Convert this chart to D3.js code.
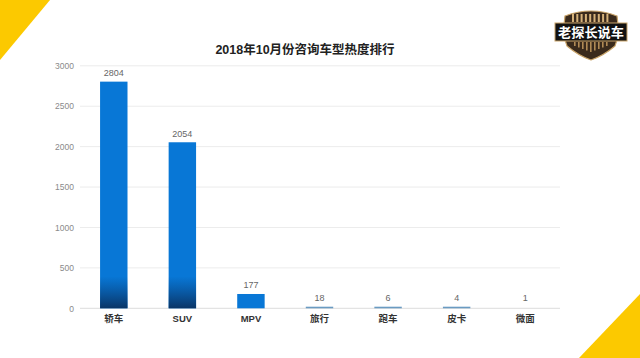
<!DOCTYPE html>
<html><head><meta charset="utf-8">
<script src="https://cdn.jsdelivr.net/npm/d3@7"></script>
<style>body{margin:0;background:#fff}svg{display:block}</style>
</head><body>
<svg id="c" width="640" height="358"></svg>
<script>
const categories = ["轿车","SUV","MPV","旅行","跑车","皮卡","微面"];
const values = [2804, 2054, 177, 18, 6, 4, 1];
const yTicks = [0, 500, 1000, 1500, 2000, 2500, 3000];
const title = "2018年10月份咨询车型热度排行";
const logoText = "老探长说车";

const svg = d3.select("#c");
const font = "'Liberation Sans', Arial, 'Noto Sans CJK SC', sans-serif";

// decorative yellow corners
svg.append("path").attr("d","M0,0L50,0L0,60Z").attr("fill","#fcc900");
svg.append("path").attr("d","M640,294L640,358L579,358Z").attr("fill","#fcc900");

const x = d3.scaleBand().domain(categories).range([79.5, 559.5]).paddingInner(0.6).paddingOuter(0.3);
const y = d3.scaleLinear().domain([0, 3000]).range([308.3, 65.8]);

// grid
svg.append("g").selectAll("line").data(yTicks).join("line")
  .attr("x1", 80).attr("x2", 560)
  .attr("y1", d => y(d)).attr("y2", d => y(d))
  .attr("stroke", d => d === 0 ? "#dcdcdc" : "#ececec").attr("stroke-width", 1);

const yAxis = d3.axisLeft(y).tickValues(yTicks).tickFormat(d3.format("d")).tickSize(0).tickPadding(0);
const ga = svg.append("g").attr("transform","translate(74,0)").call(yAxis);
ga.select(".domain").remove();
ga.selectAll("text").attr("fill","#8a8a8a").style("font-family",font).style("font-size","8.5px");

// gradient for shading near base
const defs = svg.append("defs");
const grad = defs.append("linearGradient").attr("id","shade")
  .attr("gradientUnits","userSpaceOnUse").attr("x1",0).attr("x2",0)
  .attr("y1", y(0) - 32).attr("y2", y(0));
grad.append("stop").attr("offset","0%").attr("stop-color","#0a3b73").attr("stop-opacity",0);
grad.append("stop").attr("offset","100%").attr("stop-color","#0a2f5c").attr("stop-opacity",0.92);

const data = categories.map((c,i)=>({c, v: values[i]}));
const barH = d => d.v > 1 ? Math.max(y(0) - y(d.v), 1.6) : 0;
svg.append("g").selectAll("rect").data(data).join("rect")
  .attr("x", d => x(d.c)).attr("width", x.bandwidth())
  .attr("y", d => y(0) - barH(d)).attr("height", barH)
  .attr("fill", d => d.v > 100 ? "#0877d6" : "#6a9bc2");
svg.append("g").selectAll("rect").data(data.filter(d => d.v > 1000)).join("rect")
  .attr("x", d => x(d.c)).attr("width", x.bandwidth())
  .attr("y", y(0) - 32).attr("height", 32).attr("fill","url(#shade)");

// value labels
svg.append("g").selectAll("text").data(data).join("text")
  .attr("x", d => x(d.c) + x.bandwidth()/2)
  .attr("y", d => Math.min(y(d.v), y(0) - 1.6) - 5.5)
  .attr("text-anchor","middle").attr("fill","#666")
  .style("font-family",font).style("font-size","9px").text(d => d.v);

// category labels
svg.append("g").selectAll("text").data(categories).join("text")
  .attr("x", d => x(d) + x.bandwidth()/2).attr("y", 322)
  .attr("text-anchor","middle").attr("fill","#333").attr("font-weight","bold")
  .style("font-family",font).style("font-size","9.5px").text(d => d);

// title
svg.append("text").attr("x", 305).attr("y", 53.5).attr("text-anchor","middle")
  .attr("font-weight","bold").attr("fill","#222")
  .style("font-family",font).style("font-size","12.5px").text(title);

// logo
const lg = svg.append("g").attr("transform","translate(555,8)");
lg.append("path").attr("d","M10,8Q36,-2 62,8L64,26L60,38Q48,48 36,52Q24,48 12,38L8,26Z")
  .attr("fill","#3a2a1c").attr("stroke","#c9a46a").attr("stroke-width",1.2);
for (let i=0;i<9;i++){
  lg.append("rect").attr("x",17+i*4.3).attr("y",6).attr("width",2).attr("height",8).attr("fill","#d6b27a");
  lg.append("rect").attr("x",19+i*4).attr("y",34).attr("width",1.6).attr("height",10-Math.abs(i-4)*1.5).attr("fill","#b08a55");
}
lg.append("rect").attr("x",0).attr("y",15).attr("width",72).attr("height",18).attr("fill","#111").attr("stroke","#c9a46a").attr("stroke-width",1);
lg.append("text").attr("x",36).attr("y",29).attr("text-anchor","middle").attr("fill","#fff")
  .attr("font-weight","bold").style("font-family","'Noto Sans CJK SC', sans-serif").style("font-size","13px")
  .attr("textLength",66).attr("lengthAdjust","spacingAndGlyphs").text(logoText);
</script>
</body></html>
